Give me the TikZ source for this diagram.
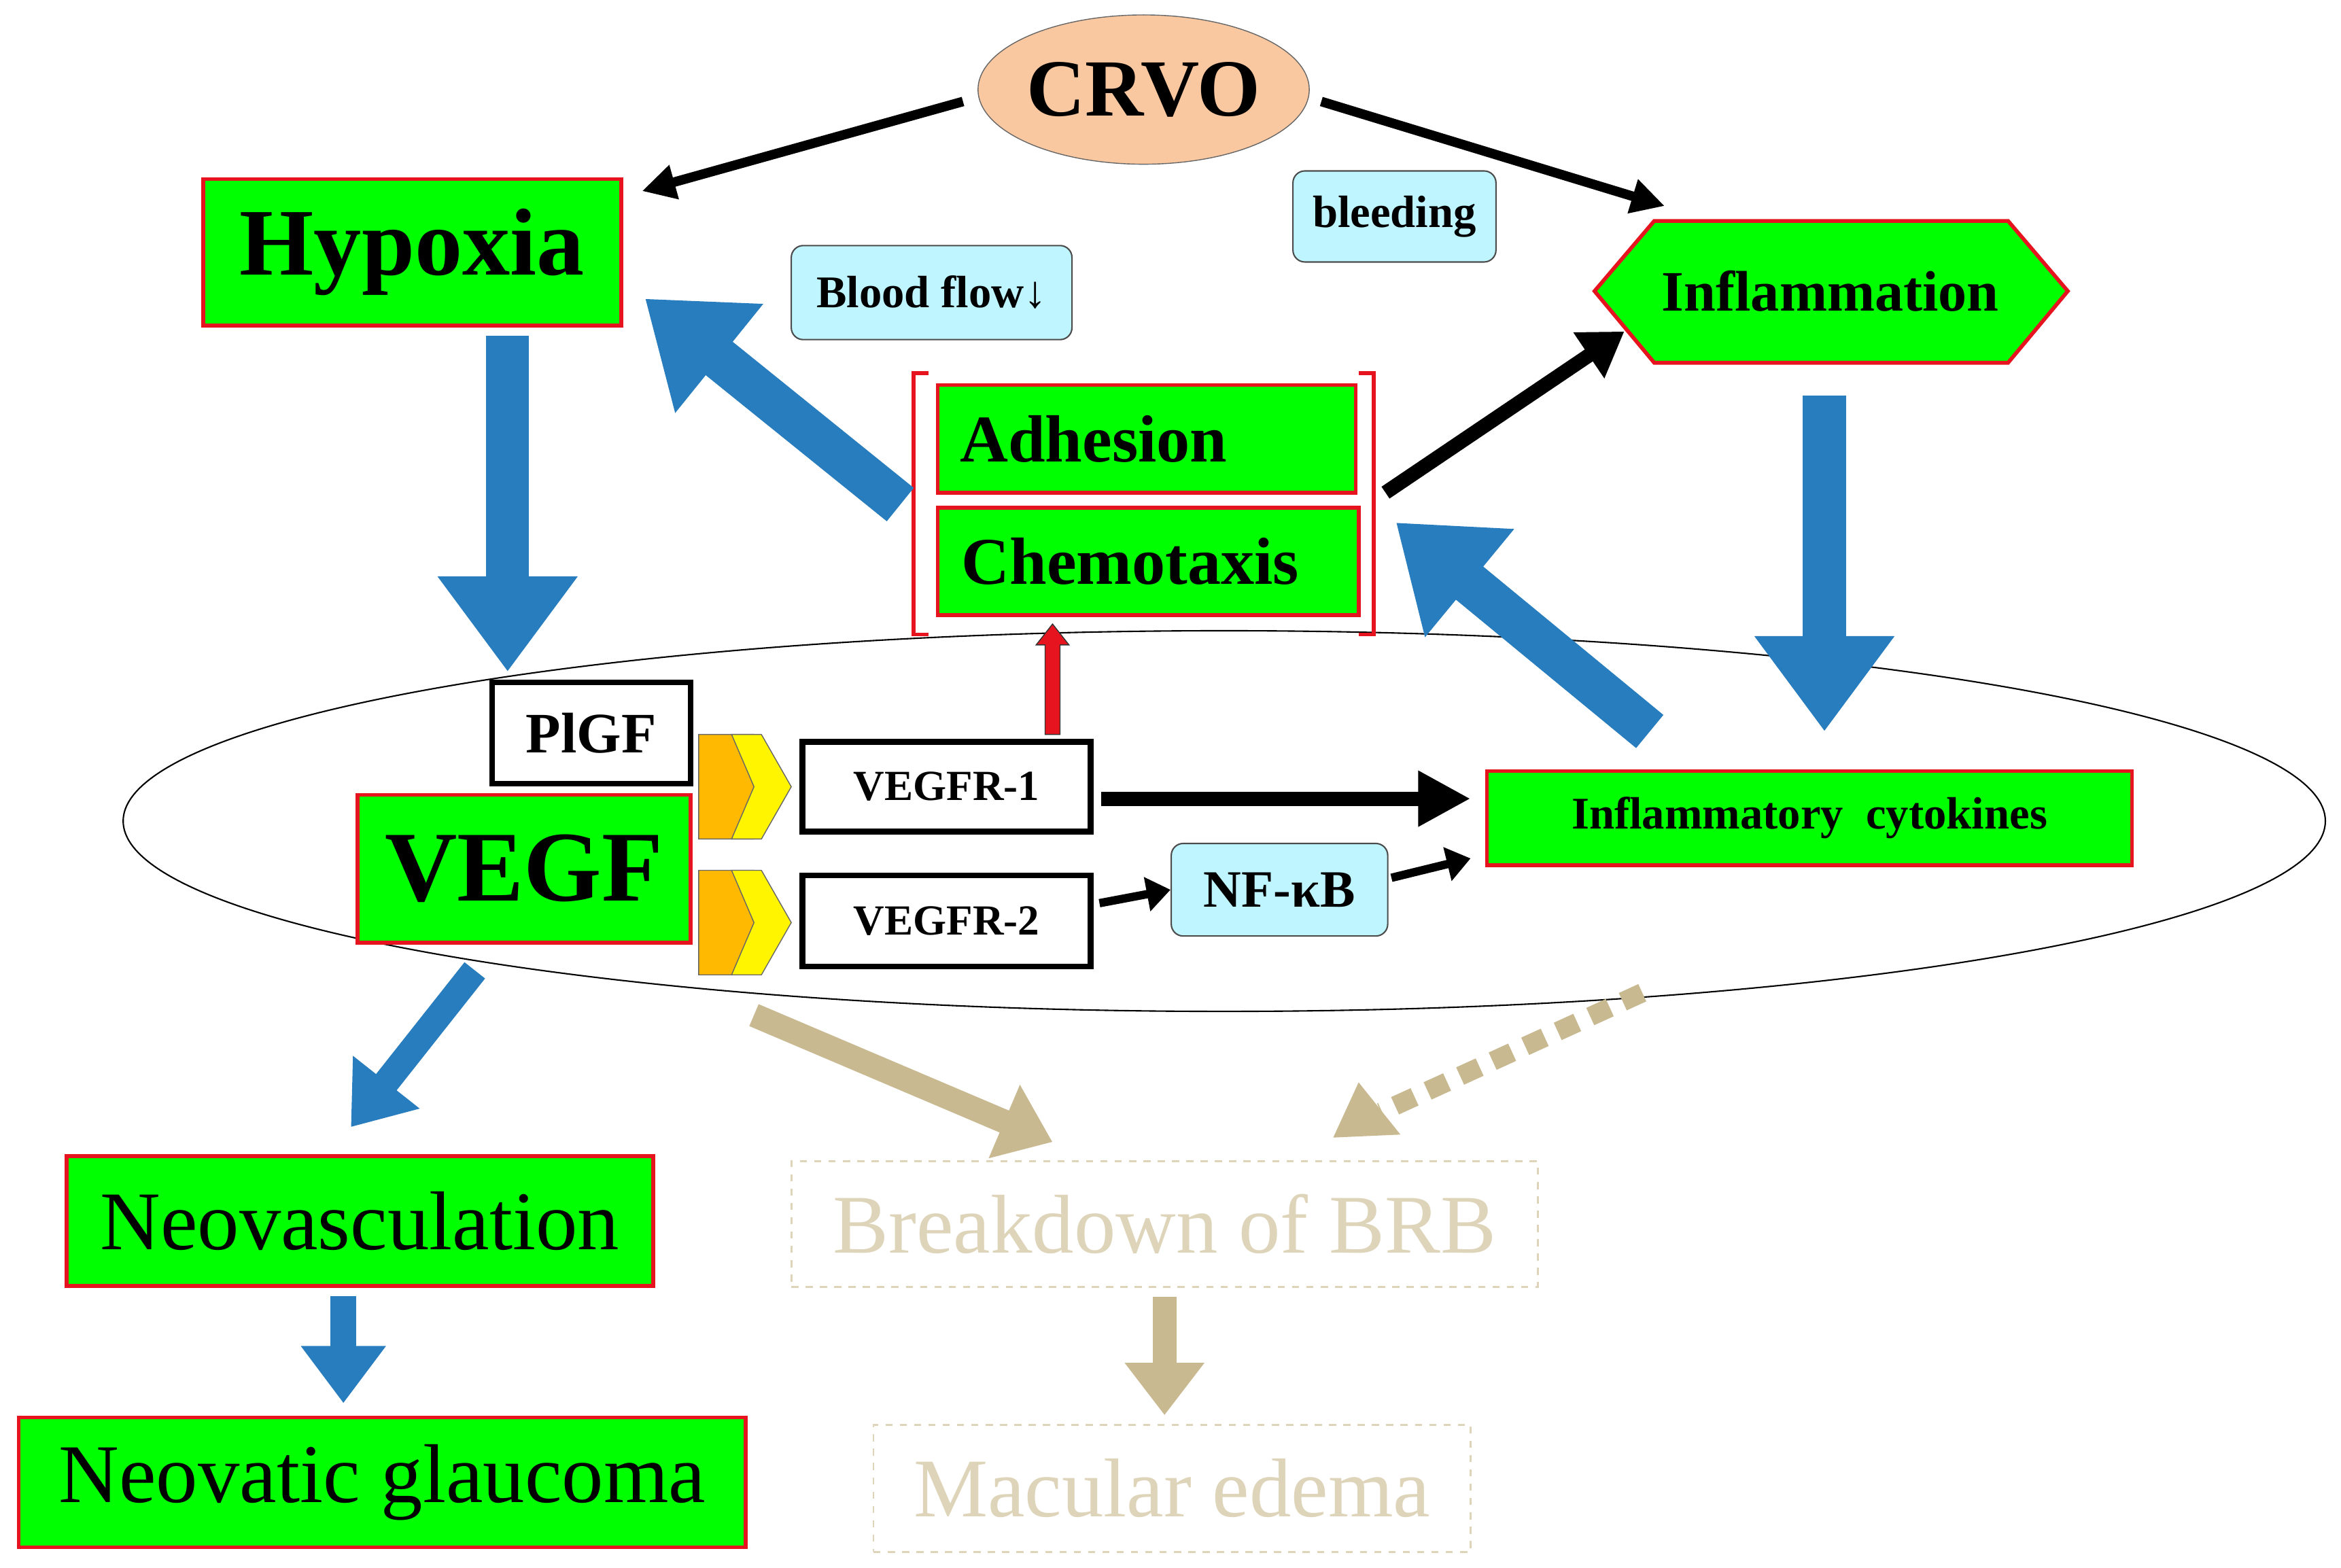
\documentclass[tikz,border=0pt]{standalone}
\usepackage{fontspec}
\setmainfont{Liberation Serif}
\usetikzlibrary{arrows.meta,shapes.geometric}
\definecolor{grn}{RGB}{0,255,0}
\definecolor{rd}{RGB}{230,20,30}
\definecolor{cy}{RGB}{190,245,255}
\definecolor{bl}{RGB}{40,125,190}
\definecolor{tan}{RGB}{200,185,145}
\definecolor{ltan}{RGB}{222,212,185}
\definecolor{peach}{RGB}{250,200,160}
\definecolor{org}{RGB}{255,185,0}
\definecolor{yel}{RGB}{255,245,0}
\begin{document}
\begin{tikzpicture}[x=0.022cm,y=-0.022cm,
 gbox/.style={draw=rd,line width=1.6pt,fill=grn,inner sep=0pt,font=\bfseries},
 wbox/.style={draw=black,line width=2.4pt,fill=white,inner sep=0pt,font=\bfseries},
 cbox/.style={draw=black!70,line width=0.6pt,fill=cy,rounded corners=5pt,inner sep=0pt,font=\bfseries},
 dbox/.style={draw=ltan,dashed,line width=0.8pt,inner sep=0pt,text=ltan},
 blk/.style={draw=black,line width=4pt,-{Triangle[length=14pt,width=14pt]}},
 bbig/.style={draw=bl,line width=18pt,-{Triangle[length=40pt,width=56pt]}},
 bmid/.style={draw=bl,line width=11pt,-{Triangle[length=24pt,width=34pt]}},
 tarr/.style={draw=tan,line width=10pt,-{Triangle[length=22pt,width=32pt]}}]
\useasboundingbox (0,0) rectangle (1568,1050);
% big ellipse
\node[draw,ellipse,line width=0.6pt,minimum width=1475*0.022cm,minimum height=255*0.022cm] (cell) at (820,550) {};
% nodes
\node[draw=black!60,ellipse,fill=peach,inner sep=0pt,minimum width=210*0.022cm,minimum height=100*0.022cm,font=\bfseries\fontsize{34}{38}\selectfont] (crvo) at (766,60) {CRVO};
\node[gbox,minimum width=280*0.022cm,minimum height=98*0.022cm,font=\bfseries\fontsize{40}{44}\selectfont] (hyp) at (276,169) {Hypoxia};
\node[cbox,minimum width=188*0.022cm,minimum height=63*0.022cm,font=\bfseries\fontsize{19}{22}\selectfont] (bf) at (624,196) {Blood flow↓};
\node[cbox,minimum width=136*0.022cm,minimum height=61*0.022cm,font=\bfseries\fontsize{19}{22}\selectfont] (bleed) at (934,145) {bleeding};
\draw[draw=rd,line width=1.6pt,fill=grn] (1068,195)--(1108,148)--(1345,148)--(1385,195)--(1345,243)--(1108,243)--cycle;
\node[font=\bfseries\fontsize{24}{28}\selectfont] (infl) at (1226,195) {Inflammation};
\coordinate (inflL) at (1088,222);
\node[gbox,minimum width=280*0.022cm,minimum height=72*0.022cm,font=\bfseries\fontsize{28}{32}\selectfont,text width=250*0.022cm] (adh) at (768,294) {Adhesion};
\node[gbox,minimum width=282*0.022cm,minimum height=72*0.022cm,font=\bfseries\fontsize{28}{32}\selectfont,text width=250*0.022cm] (chem) at (769,376) {Chemotaxis};
\draw[rd,line width=1.6pt] (622,250)--(612,250)--(612,425)--(622,425);
\draw[rd,line width=1.6pt] (910,250)--(920,250)--(920,425)--(910,425);
\node[wbox,minimum width=133*0.022cm,minimum height=68*0.022cm,font=\bfseries\fontsize{24}{28}\selectfont] (plgf) at (396,491) {PlGF};
\node[gbox,minimum width=223*0.022cm,minimum height=99*0.022cm,font=\bfseries\fontsize{42}{46}\selectfont] (vegf) at (351,582) {VEGF};
\foreach \y in {492,583}{
 \draw[black!60,fill=org] (468,\y)--(505,\y)--(520,\y+35)--(505,\y+70)--(468,\y+70)--cycle;
 \draw[black!60,fill=yel] (490,\y)--(510,\y)--(530,\y+35)--(510,\y+70)--(490,\y+70)--(505,\y+35)--cycle;}
\node[wbox,minimum width=193*0.022cm,minimum height=60*0.022cm,font=\bfseries\fontsize{18}{22}\selectfont] (r1) at (634,527) {VEGFR-1};
\node[wbox,minimum width=193*0.022cm,minimum height=61*0.022cm,font=\bfseries\fontsize{18}{22}\selectfont] (r2) at (634,617) {VEGFR-2};
\node[cbox,minimum width=145*0.022cm,minimum height=62*0.022cm,font=\bfseries\fontsize{22}{26}\selectfont] (nfkb) at (857,596) {NF-κB};
\node[gbox,minimum width=432*0.022cm,minimum height=63*0.022cm,font=\bfseries\fontsize{19}{22}\selectfont] (cyt) at (1212,548) {Inflammatory\ \ cytokines};
\node[gbox,minimum width=393*0.022cm,minimum height=87*0.022cm,font=\fontsize{35}{40}\selectfont] (neo) at (241,818) {Neovasculation};
\node[gbox,minimum width=487*0.022cm,minimum height=87*0.022cm,font=\fontsize{35}{40}\selectfont] (gla) at (256,993) {Neovatic glaucoma};
\node[dbox,minimum width=500*0.022cm,minimum height=84*0.022cm,font=\fontsize{35}{40}\selectfont] (brb) at (780,820) {Breakdown of BRB};
\node[dbox,minimum width=400*0.022cm,minimum height=85*0.022cm,font=\fontsize{35}{40}\selectfont] (mac) at (785,997) {Macular edema};
% arrows
\coordinate (c1) at (645,68);
\coordinate (c2) at (885,68);
\draw[blk] (c1) -- (430,128);
\draw[blk] (c2) -- (1115,138);
\draw[bbig] (340,225) -- (340,450);
\draw[bbig] (603,338) -- (432,200);
\draw[blk,line width=6pt,-{Triangle[length=18pt,width=22pt]}] (928,330) -- (inflL);
\draw[bbig] (1222,265) -- (1222,490);
\draw[bbig] (1105,490) -- (935,350);
\draw[draw=black!80,fill=rd,line width=0.4pt] (700,492)--(700,432)--(694,432)--(705,418)--(716,432)--(710,432)--(710,492)--cycle;
\draw[blk,line width=6pt,-{Triangle[length=22pt,width=22pt]}] (r1.east)++(5,8) -- (985,535);
\draw[blk,line width=3.5pt,-{Triangle[length=10pt,width=14pt]}] (r2.east)++(4,-12) -- (nfkb.west);
\draw[blk,line width=3.5pt,-{Triangle[length=10pt,width=14pt]}] (nfkb.east)++(2,-8) -- (985,575);
\draw[bmid] (318,650) -- (235,755);
\draw[bmid] (230,868) -- (230,940);
\draw[tarr] (505,680) -- (705,765);
\draw[draw=tan,line width=8pt,dash pattern=on 9pt off 6pt] (1100,665) -- (925,745);
\fill[tan] (893,762) -- (910,725) -- (938,760) -- cycle;
\draw[tarr] (brb.south) ++(0,6) -- (780,948);
\end{tikzpicture}
\end{document}
